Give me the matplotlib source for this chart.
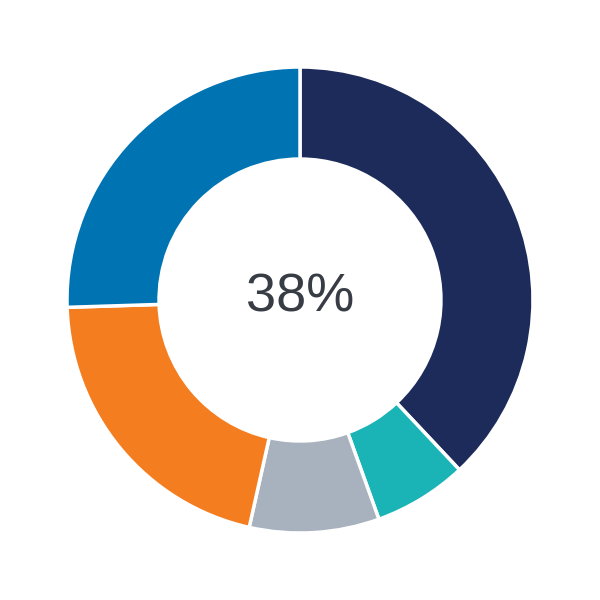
import matplotlib
matplotlib.use('Agg')
import matplotlib.pyplot as plt

# slice shares in percent, clockwise from 12 o'clock
labels = ['navy', 'teal', 'gray', 'orange', 'blue']
values = [38, 6.5, 9, 21, 25.5]
colors = ['#1c2b5a', '#1ab4b6', '#a8b2bf', '#f47d20', '#0073b2']
center_text = '38%'

fig = plt.figure(figsize=(6, 6), dpi=100)
ax = fig.add_axes([0, 0, 1, 1])
ax.pie(values, colors=colors, startangle=90, counterclock=False,
       radius=1.0, wedgeprops=dict(width=0.395, edgecolor='white', linewidth=2.5))
lim = 300/233
ax.set_xlim(-lim, lim)
ax.set_ylim(-lim, lim)
ax.set_aspect('equal')
ax.axis('off')
ax.text(0, 0.01, center_text, ha='center', va='center', fontsize=39,
        family=['Liberation Sans', 'DejaVu Sans'], color='#383d45')
fig.savefig('out.png', dpi=100)
